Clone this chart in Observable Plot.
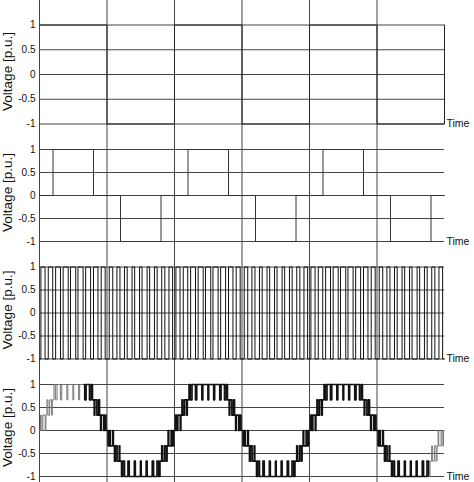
<!DOCTYPE html>
<html><head><meta charset="utf-8">
<script src="https://cdn.jsdelivr.net/npm/d3@7"></script>
<script src="https://cdn.jsdelivr.net/npm/@observablehq/plot@0.6"></script>
<style>
html,body{margin:0;padding:0;background:#fff;}
#chart{width:474px;}
#chart svg{display:block;}
</style></head><body><div id="chart"></div>
<script>
// ---- data ----
const yTicks = [1, 0.5, 0, -0.5, -1];
const xGrid = [0, 1, 2, 3, 4, 5];
const xEnd = 6;
const yLabel = "Voltage [p.u.]";
const xLabel = "Time";

// panel 1: two-level square wave (step-after)
const squareTimes  = [0, 1, 2, 3, 4, 5, 6];
const squareLevels = [1, -1, 1, -1, 1, -1, 1];

// panel 2: three-level quasi-square wave
const quasiTimes  = [0, 0.2, 0.8, 1.2, 1.8, 2.2, 2.8, 3.2, 3.8, 4.2, 4.8, 5.2, 5.8, 6];
const quasiLevels = [0, 1, 0, -1, 0, 1, 0, -1, 0, 1, 0, -1, 0, 0];

// panel 3: bipolar PWM switching instants within one fundamental period
const pwmPeriod = [0.021,0.082,0.130,0.196,0.239,0.311,0.350,0.425,0.459,0.537,0.570,0.646,
                   0.684,0.757,0.800,0.866,0.914,0.973,1.033,1.085,1.147,1.192,1.259,1.299,
                   1.371,1.410,1.482,1.519,1.594,1.632,1.703,1.743,1.811,1.857,1.918,1.972];
const pwmPeriodStarts = [0, 2, 4];

// panel 4: multilevel (7-level) staircase PWM, one positive half-cycle, levels in thirds
const halfTimes  = [0,0.015,0.035,0.05,0.085,0.095,0.11,0.125,0.15,0.18,0.19,
                    0.215,0.235,0.26,0.31,0.33,0.405,0.42,0.495,0.507,0.58,0.595,0.67,0.69,0.74,0.765,
                    0.785,0.81,0.82,0.85,0.875,0.89,0.905,0.915,0.95,0.965,0.985];
const halfLevels = [0,1,0,1,0,1, 2,1,2,1,2, 3,2,3,2,3,2,3,2,3,2,3,2,3,2,3, 2,1,2,1,2,1, 0,1,0,1,0];
const halfStarts = [0, 1, 2, 3, 4, 5];
const halfSigns  = [1, -1, 1, -1, 1, -1];
const grayBefore = 0.66, grayAfter = 5.77;

// ---- build tables ----
const zip = (ts, vs) => ts.map((t, i) => ({t, v: vs[i]}));
const square = zip(squareTimes, squareLevels);
const quasi = zip(quasiTimes, quasiLevels);

const pwm = [{t: 0, v: -1}];
let lvl = -1;
for (const s of pwmPeriodStarts) for (const p of pwmPeriod) { lvl = -lvl; pwm.push({t: s + p, v: lvl}); }
pwm.push({t: xEnd, v: lvl});

const multi = [];
halfStarts.forEach((s, h) => halfTimes.forEach((t, i) => multi.push({t: s + t, v: halfSigns[h] * halfLevels[i] / 3})));
multi.push({t: xEnd, v: 0});
const levelAt = (t) => { let v = multi[0].v; for (const d of multi) { if (d.t <= t) v = d.v; } return v; };
const grayA = multi.filter(d => d.t < grayBefore).concat([{t: grayBefore, v: levelAt(grayBefore)}]);
const black = [{t: grayBefore, v: levelAt(grayBefore)}].concat(multi.filter(d => d.t > grayBefore && d.t < grayAfter)).concat([{t: grayAfter, v: levelAt(grayAfter)}]);
const grayB = [{t: grayAfter, v: levelAt(grayAfter)}].concat(multi.filter(d => d.t > grayAfter));

// ---- drawing ----
const font = "'Liberation Sans', Arial, Helvetica, sans-serif";
function panel(height, marginTop, marginBottom, waveMarks) {
  return Plot.plot({
    width: 474, height, marginTop, marginBottom, marginLeft: 39, marginRight: 30,
    x: {domain: [0, xEnd], axis: null},
    y: {domain: [-1, 1], ticks: yTicks, tickSize: 0, tickPadding: 4, tickFormat: d => String(d), label: null},
    style: {fontFamily: font, fontSize: "10px", color: "#111", background: "white", overflow: "hidden"},
    marks: [
      Plot.ruleX(xGrid, {y1: -3, y2: 3, stroke: "#444", strokeWidth: 1}),
      Plot.ruleY(yTicks, {stroke: "#444", strokeWidth: 1}),
      ...waveMarks,
      Plot.text([xLabel], {text: d => d, x: xEnd, y: -1, textAnchor: "start", dx: 2, fontSize: 10.5, fill: "#111"}),
      Plot.text([yLabel], {text: d => d, frameAnchor: "left", textAnchor: "middle", lineAnchor: "middle", rotate: -90, dx: -32, dy: -3, fontSize: 13.5, fill: "#111"})
    ]
  });
}
const line = (data, stroke, strokeWidth) => Plot.line(data, {x: "t", y: "v", curve: "step-after", stroke, strokeWidth});

const root = document.getElementById("chart");
root.appendChild(panel(136, 24.5, 12.5, [line(square, "#222", 1)]));
root.appendChild(panel(118, 13, 13, [line(quasi, "#333", 1)]));
root.appendChild(panel(117, 12.5, 12.5, [line(pwm, "#111", 1)]));
root.appendChild(panel(111, 13, 6, [line(grayA, "#777", 1), line(black, "#111", 1.6), line(grayB, "#777", 1)]));
</script></body></html>
